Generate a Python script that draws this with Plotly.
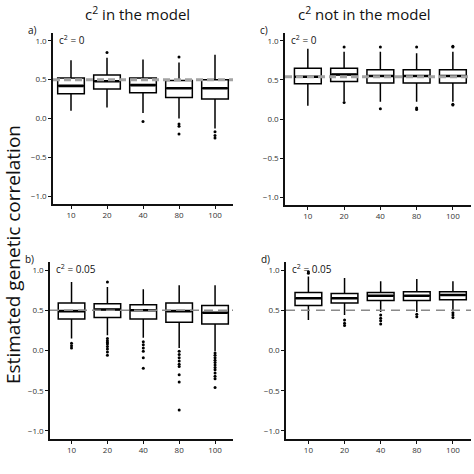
import plotly.graph_objects as go

categories = ["10", "20", "40", "80", "100"]

# panel a) c2 = 0, c2 in the model
a_q1 = [0.32, 0.38, 0.33, 0.27, 0.25]
a_median = [0.42, 0.48, 0.43, 0.39, 0.39]
a_q3 = [0.52, 0.56, 0.52, 0.49, 0.50]
a_low = [0.10, 0.14, 0.07, 0.00, -0.13]
a_high = [0.75, 0.78, 0.76, 0.72, 0.82]
a_outliers = [[], [0.85], [-0.04], [0.79, -0.07, -0.10, -0.20], [-0.17, -0.22, -0.25]]

# panel b) c2 = 0.05, c2 in the model
b_q1 = [0.39, 0.41, 0.39, 0.35, 0.33]
b_median = [0.49, 0.51, 0.50, 0.49, 0.47]
b_q3 = [0.59, 0.58, 0.57, 0.59, 0.56]
b_low = [0.15, 0.19, 0.16, 0.03, -0.01]
b_high = [0.85, 0.79, 0.76, 0.81, 0.81]
b_outliers = [
    [0.09, 0.06, 0.03],
    [0.85, 0.15, 0.12, 0.10, 0.08, 0.05, 0.02, -0.02, -0.06],
    [0.11, 0.07, 0.03, -0.01, -0.09, -0.22],
    [-0.01, -0.05, -0.09, -0.13, -0.17, -0.20, -0.30, -0.39, -0.74],
    [-0.03, -0.06, -0.09, -0.12, -0.15, -0.18, -0.21, -0.24, -0.28, -0.32, -0.35, -0.46],
]

# panel c) c2 = 0, c2 not in the model
c_q1 = [0.45, 0.48, 0.46, 0.46, 0.46]
c_median = [0.54, 0.57, 0.55, 0.55, 0.55]
c_q3 = [0.65, 0.65, 0.63, 0.63, 0.63]
c_low = [0.17, 0.23, 0.22, 0.22, 0.22]
c_high = [0.90, 0.86, 0.86, 0.84, 0.86]
c_outliers = [[], [0.92, 0.21], [0.92, 0.13], [0.92, 0.14, 0.12], [0.93, 0.92, 0.19, 0.18]]

# panel d) c2 = 0.05, c2 not in the model
d_q1 = [0.56, 0.59, 0.62, 0.62, 0.63]
d_median = [0.65, 0.65, 0.68, 0.68, 0.69]
d_q3 = [0.72, 0.71, 0.72, 0.73, 0.73]
d_low = [0.38, 0.44, 0.48, 0.48, 0.49]
d_high = [0.92, 0.90, 0.86, 0.89, 0.86]
d_outliers = [[0.98, 0.96], [0.38, 0.34, 0.31], [0.44, 0.40, 0.37, 0.33], [0.45, 0.42], [0.47, 0.44, 0.41]]

# reference (true) genetic correlation per panel
true_rg = [0.5, 0.5, 0.54, 0.5]

panel_letters = ["a)", "b)", "c)", "d)"]
panel_c2 = ["c<sup>2</sup> = 0", "c<sup>2</sup> = 0.05", "c<sup>2</sup> = 0", "c<sup>2</sup> = 0.05"]
column_titles = ["c<sup>2</sup> in the model", "c<sup>2</sup> not in the model"]
y_title = "Estimated genetic correlation"

panels = [
    (a_q1, a_median, a_q3, a_low, a_high, a_outliers),
    (b_q1, b_median, b_q3, b_low, b_high, b_outliers),
    (c_q1, c_median, c_q3, c_low, c_high, c_outliers),
    (d_q1, d_median, d_q3, d_low, d_high, d_outliers),
]

W = 474
# pixel boxes of each plotting area: (left, right, top, bottom)
areas = [(53, 233, 33, 204), (50, 233, 262, 439), (285, 471, 33, 205), (286, 471, 262, 439)]
x_ranges = [[-0.5, 4.5], [-0.6, 4.5], [-0.63, 4.5], [-0.62, 4.5]]
line_styles = [
    dict(color="#a3a3a3", width=3, dash="7px,4px"),
    dict(color="#8a8a8a", width=1.6, dash="9px,5px"),
    dict(color="#a3a3a3", width=3, dash="7px,4px"),
    dict(color="#8a8a8a", width=1.6, dash="9px,6px"),
]

fig = go.Figure()
layout = dict(
    width=W, height=W,
    margin=dict(l=0, r=0, t=0, b=0),
    paper_bgcolor="white", plot_bgcolor="white",
    showlegend=False,
    font=dict(family="Open Sans", color="#222"),
)

annotations = []
shapes = []

for i, (q1, med, q3, lo, hi, outs) in enumerate(panels):
    n = i + 1
    xa = "x" if n == 1 else "x%d" % n
    ya = "y" if n == 1 else "y%d" % n
    left, right, top, bottom = areas[i]

    fig.add_trace(go.Box(
        x=categories, q1=q1, median=med, q3=q3,
        lowerfence=lo, upperfence=hi,
        fillcolor="white", line=dict(color="black", width=1.5),
        whiskerwidth=0, width=0.74, boxpoints=False,
        xaxis=xa, yaxis=ya,
    ))
    # thicker median bar, as in the original figure
    fig.add_trace(go.Box(
        x=categories, q1=med, median=med, q3=med,
        lowerfence=med, upperfence=med,
        fillcolor="black", line=dict(color="black", width=2.6),
        whiskerwidth=0, width=0.70, boxpoints=False,
        xaxis=xa, yaxis=ya,
    ))

    ox, oy = [], []
    for cat, vals in zip(categories, outs):
        for v in vals:
            ox.append(cat)
            oy.append(v)
    fig.add_trace(go.Scatter(
        x=ox, y=oy, mode="markers",
        marker=dict(color="black", size=3, symbol="circle"),
        xaxis=xa, yaxis=ya,
    ))

    shapes.append(dict(
        type="line", xref=xa + " domain", yref=ya,
        x0=0, x1=1, y0=true_rg[i], y1=true_rg[i],
        line=line_styles[i], layer="above",
    ))

    axis_key = "xaxis" if n == 1 else "xaxis%d" % n
    yaxis_key = "yaxis" if n == 1 else "yaxis%d" % n
    layout[axis_key] = dict(
        domain=[left / W, right / W], anchor=ya,
        type="category", range=x_ranges[i],
        showline=True, linecolor="#111", linewidth=1.5,
        ticks="outside", ticklen=3, tickcolor="#111",
        tickfont=dict(size=8, color="#333"),
        showgrid=False, zeroline=False,
    )
    layout[yaxis_key] = dict(
        domain=[1 - bottom / W, 1 - top / W], anchor=xa,
        range=[-1.1, 1.1],
        tickvals=[-1.0, -0.5, 0.0, 0.5, 1.0], tickformat=".1f",
        showline=True, linecolor="#111", linewidth=1.5,
        ticks="outside", ticklen=3, tickcolor="#111",
        tickfont=dict(size=8, color="#333"),
        showgrid=False, zeroline=False,
    )

    annotations.append(dict(
        text=panel_c2[i], xref="paper", yref="paper",
        x=(left + 4) / W, y=1 - (top + 7) / W,
        xanchor="left", yanchor="middle", showarrow=False,
        font=dict(size=10, color="#111"),
    ))
    annotations.append(dict(
        text=panel_letters[i], xref="paper", yref="paper",
        x=(left - 27) / W, y=1 - (top - 3) / W,
        xanchor="left", yanchor="middle", showarrow=False,
        font=dict(size=10, color="#111"),
    ))

annotations.append(dict(
    text=column_titles[0], xref="paper", yref="paper",
    x=137 / W, y=1 - 14 / W, xanchor="center", yanchor="middle",
    showarrow=False, font=dict(size=15, color="#111"),
))
annotations.append(dict(
    text=column_titles[1], xref="paper", yref="paper",
    x=364 / W, y=1 - 14 / W, xanchor="center", yanchor="middle",
    showarrow=False, font=dict(size=15, color="#111"),
))
annotations.append(dict(
    text=y_title, xref="paper", yref="paper",
    x=13 / W, y=1 - 255 / W, xanchor="center", yanchor="middle",
    textangle=-90, showarrow=False, font=dict(size=19, color="#111"),
))

layout["annotations"] = annotations
layout["shapes"] = shapes
fig.update_layout(**layout)

fig.write_html(
    "out.html",
    config={"displayModeBar": False},
    post_script="document.body.style.margin='0';document.body.style.overflow='hidden';",
)
